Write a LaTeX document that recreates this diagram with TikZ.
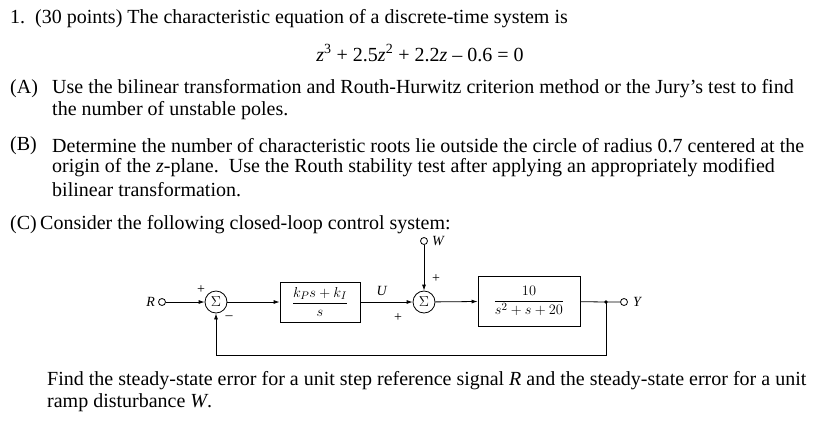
\documentclass[tikz,border=0pt]{standalone}
\usepackage{amsmath}
\usepackage{fontspec}
\setmainfont{Liberation Serif}
\usetikzlibrary{arrows.meta}
\newcommand{\zz}{\textit{z}}
\begin{document}
\begin{tikzpicture}[x=1pt,y=-1pt,
  txt/.style={anchor=west,inner sep=0pt,font=\fontsize{20}{24}\selectfont},
  sm/.style={inner sep=0pt,font=\fontsize{14}{16}\selectfont},
  sumnode/.style={circle,draw,thick,minimum size=22pt,inner sep=0pt,font=\fontsize{15}{16}\selectfont},
  blk/.style={draw,thick,inner sep=0pt,font=\fontsize{15}{17}\selectfont},
  term/.style={circle,draw,thick,minimum size=7pt,inner sep=0pt},
  ar/.style={thick,-{Latex[length=6pt,width=4pt]}},
  ln/.style={thick}]
\useasboundingbox (0,0) rectangle (834,432);
\node[txt] (t1) at (10,19) {1.\hspace{0.5em}(30 points) The characteristic equation of a discrete-time system is};
\node[inner sep=0pt,font=\fontsize{20}{24}\selectfont] (eq) at (420,53) {\zz\textsuperscript{3} + 2.5\zz\textsuperscript{2} + 2.2\zz{} – 0.6 = 0};
\node[txt] (a1) at (10,89) {(A)};
\node[txt] (a2) at (52,89) {Use the bilinear transformation and Routh-Hurwitz criterion method or the Jury’s test to find};
\node[txt] (a3) at (52,111) {the number of unstable poles.};
\node[txt] (b1) at (10,146) {(B)};
\node[txt] (b2) at (52,146) {Determine the number of characteristic roots lie outside the circle of radius 0.7 centered at the};
\node[txt] (b3) at (52,168) {origin of the \textit{z}-plane.\ \ Use the Routh stability test after applying an appropriately modified};
\node[txt] (b4) at (52,190) {bilinear transformation.};
\node[txt] (c1) at (10,225) {(C)\,Consider the following closed-loop control system:};
% diagram
\node[term] (R) at (162,302) {};
\node[sm,anchor=east] (Rl) at (155,302) {\textit{R}};
\node[sumnode] (s1) at (216,302) {$\Sigma$};
\node[blk,minimum width=80pt,minimum height=40pt] (b1x) at (320,302) {$\dfrac{k_P s+k_I}{s}$};
\node[sumnode] (s2) at (424,302) {$\Sigma$};
\node[term] (W) at (424,241) {};
\node[sm,anchor=west] (Wl) at (432,241) {\textit{W}};
\node[blk,minimum width=102pt,minimum height=50pt] (b2x) at (529,301) {$\dfrac{10}{s^2+s+20}$};
\coordinate (J) at (606,302);
\node[term] (Y) at (624,302) {};
\node[sm,anchor=west] (Yl) at (633,302) {\textit{Y}};
\coordinate (F) at (606,355);
\coordinate (F2) at (s1.south |- F);
\draw[ar] (R) -- (s1);
\draw[ar] (s1) -- (b1x);
\draw[ar] (b1x) -- (s2);
\draw[ar] (W) -- (s2);
\draw[ar] (s2) -- (b2x);
\draw[ln] (b2x) -- (J) -- (Y);
\fill (J) circle (1.8pt);
\draw[ln] (J) -- (F) -- (F2);
\draw[ar] (F2) -- (s1.south);
\node[sm] (p1) at (201,290) {+};
\node[sm] (m1) at (229,318) {–};
\node[sm] (U) at (382,291) {\textit{U}};
\node[sm] (p2) at (398,318) {+};
\node[sm] (p3) at (436,279) {+};
\node[txt] (f1) at (47,381) {Find the steady-state error for a unit step reference signal \textit{R} and the steady-state error for a unit};
\node[txt] (f2) at (47,403) {ramp disturbance \textit{W}.};
\end{tikzpicture}
\end{document}
